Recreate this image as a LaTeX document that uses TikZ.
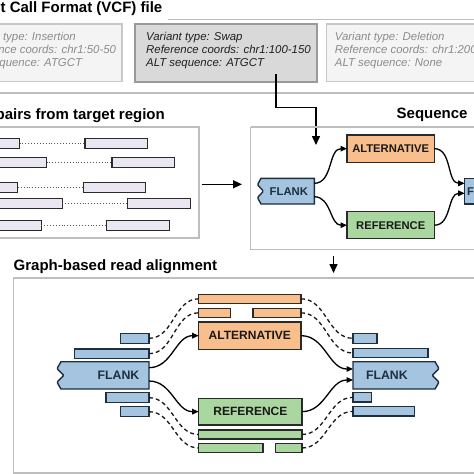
\documentclass[tikz,border=0pt]{standalone}
\usepackage{fontspec}
\setmainfont{Liberation Sans}
\usetikzlibrary{arrows.meta,calc}
\definecolor{framegray}{HTML}{BEBEBE}
\definecolor{vcflight}{HTML}{F4F4F4}
\definecolor{vcflightedge}{HTML}{C8C8C8}
\definecolor{vcfsel}{HTML}{D9D9D9}
\definecolor{vcfseledge}{HTML}{9A9A9A}
\definecolor{vcfgraytext}{HTML}{8C8C8C}
\definecolor{lav}{HTML}{EAE6F2}
\definecolor{edgedark}{HTML}{2A2A2A}
\definecolor{flankblue}{HTML}{A4C4E0}
\definecolor{flankedge}{HTML}{1E2F40}
\definecolor{altorange}{HTML}{F8BE8C}
\definecolor{refgreen}{HTML}{AAD6A0}
\newcommand\rbox[6]{\node[#1, minimum width={((#5)-(#3))*1pt}, minimum height={((#6)-(#4))*1pt}] (#2) at ({((#3)+(#5))/2},{((#4)+(#6))/2}) {};}
\newcommand\lbox[7]{\node[#1, minimum width={((#5)-(#3))*1pt}, minimum height={((#6)-(#4))*1pt}] (#2) at ({((#3)+(#5))/2},{((#4)+(#6))/2}) {#7};}
% flank shape with zigzag on the left: xl, xr, top, bottom, amplitude
\newcommand\flankzl[5]{\pgfmathsetmacro\fh{(#4)-(#3)}%
  \filldraw[flankshape] (#2,#3) -- (#1,#3) [rounded corners=1pt] -- ({#1-#5},{#3+0.25*\fh}) -- ({#1+#5*0.7},{#3+0.5*\fh}) -- ({#1-#5},{#3+0.75*\fh}) [sharp corners] -- (#1,#4) -- (#2,#4) -- cycle;}
\newcommand\flankzr[5]{\pgfmathsetmacro\fh{(#4)-(#3)}%
  \filldraw[flankshape] (#1,#3) -- (#2,#3) [rounded corners=1pt] -- ({#2+#5},{#3+0.25*\fh}) -- ({#2-#5*0.7},{#3+0.5*\fh}) -- ({#2+#5},{#3+0.75*\fh}) [sharp corners] -- (#2,#4) -- (#1,#4) -- cycle;}
\begin{document}
\begin{tikzpicture}[x=1pt,y=-1pt,
  title/.style={font=\fontsize{15}{18}\selectfont\bfseries, inner sep=0pt},
  frameline/.style={draw=framegray, line width=1.6pt},
  vcfdim/.style={draw=vcflightedge, fill=vcflight, line width=1.2pt, inner sep=0pt, outer sep=0pt},
  vcfon/.style={draw=vcfseledge, fill=vcfsel, line width=2pt, inner sep=0pt, outer sep=0pt},
  vcftxt/.style={font=\fontsize{11.4}{13}\selectfont\itshape, align=left, inner sep=0pt, anchor=west},
  pairread/.style={draw=edgedark, fill=lav, line width=1.3pt, inner sep=0pt, outer sep=0pt},
  dotline/.style={draw=black!65, dotted, line width=0.9pt},
  flankshape/.style={draw=flankedge, fill=flankblue, line width=1.4pt},
  flanklabel/.style={font=\fontsize{11.3}{13}\selectfont\bfseries, text=flankedge, inner ysep=0pt, outer sep=0pt, minimum height=25pt},
  flanklabelB/.style={font=\fontsize{12.3}{14}\selectfont\bfseries, text=flankedge, inner ysep=0pt, outer sep=0pt, minimum height=27pt},
  altnode/.style={draw=edgedark, fill=altorange, line width=1.4pt, inner sep=0pt, outer sep=0pt, text=black!90},
  refnode/.style={draw=edgedark, fill=refgreen, line width=1.4pt, inner sep=0pt, outer sep=0pt, text=black!90},
  snode/.style={font=\fontsize{11.2}{13}\selectfont\bfseries},
  bnode/.style={font=\fontsize{12}{14}\selectfont\bfseries},
  bread/.style={draw=flankedge, fill=flankblue, line width=1.3pt, inner sep=0pt, outer sep=0pt},
  oread/.style={draw=edgedark, fill=altorange, line width=1.3pt, inner sep=0pt, outer sep=0pt},
  gread/.style={draw=edgedark, fill=refgreen, line width=1.3pt, inner sep=0pt, outer sep=0pt},
  flow/.style={draw=black, line width=1.3pt, -{Triangle[length=6.5pt,width=5.5pt]}},
  dashflow/.style={draw=black!90, line width=1.3pt, dash pattern=on 4pt off 3pt},
  bigarrow/.style={draw=black, line width=1.5pt, -{Triangle[length=9pt,width=8pt]}}
]
\useasboundingbox (0,0) rectangle (474,474);
\fill[white] (0,0) rectangle (474,474);
\clip (0,0) rectangle (474,474);

% ---------- VCF section ----------
\node[title, anchor=base east] (vcftitle) at (162.5,12.5) {Variant Call Format (VCF) file};
\draw[frameline] (168,19.5) -- (480,19.5);
\draw[frameline] (-5,93) -- (480,93);

\rbox{vcfdim}{vcf1}{-45}{24}{122}{81.3}
\rbox{vcfon}{vcf2}{135}{24}{317}{82}
\rbox{vcfdim}{vcf3}{326.7}{24}{520}{81.3}
\node[vcftxt, text=vcfgraytext] (vcf1t) at (-36,50.7) {Variant type: Insertion\\Reference coords: chr1:50-50\\ALT sequence: ATGCT};
\node[vcftxt, text=black!88] (vcf2t) at (146,50.7) {Variant type: Swap\\Reference coords: chr1:100-150\\ALT sequence: ATGCT};
\node[vcftxt, text=vcfgraytext] (vcf3t) at (334.7,50.7) {Variant type: Deletion\\Reference coords: chr1:200-250\\ALT sequence: None};

\coordinate (vcfa) at (276,74);
\coordinate (bend) at (276,107.7);
\coordinate (seqin) at (316,145);
\draw[bigarrow] (vcfa) -- (bend) -| (seqin);

% ---------- Read pairs ----------
\node[title, anchor=base east] (readtitle) at (165,119.3) {Read pairs from target region};
\draw[frameline] (-5,126.7) rectangle (199,237.7);

\rbox{pairread}{p1l}{-43}{138.3}{19.5}{148.3}
\rbox{pairread}{p1r}{85}{138.3}{147.5}{148.3}
\rbox{pairread}{p2l}{-16}{157.3}{46.5}{167.3}
\rbox{pairread}{p2r}{112}{157.3}{174.5}{167.3}
\rbox{pairread}{p3l}{-44.7}{182.2}{17.8}{192.2}
\rbox{pairread}{p3r}{83.3}{182.2}{145.8}{192.2}
\rbox{pairread}{p4l}{-0.3}{198.7}{62.2}{208.7}
\rbox{pairread}{p4r}{127.7}{198.7}{190.2}{208.7}
\rbox{pairread}{p5l}{-21.3}{220.2}{41.2}{230.2}
\rbox{pairread}{p5r}{106.7}{220.2}{169.2}{230.2}
\foreach \i in {1,...,5} {\draw[dotline] (p\i l.east) -- (p\i r.west);}

\coordinate (ra1) at (201.7,184.3);
\coordinate (ra2) at (242,184.3);
\draw[bigarrow] (ra1) -- (ra2);

% ---------- Sequence graph ----------
\node[title, anchor=base west] (seqtitle) at (396.5,118.5) {Sequence};
\draw[frameline] (250.5,126.7) -- (480,126.7) (250.5,126.7) -- (250.5,249.5) -- (480,249.5);

\flankzl{261}{314.3}{178.3}{204}{3.5}
\filldraw[flankshape] (530,178.3) -- (464.7,178.3) -- (464.7,204) -- (530,204);
\node[flanklabel, anchor=east, inner xsep=6.3pt] (flankS) at (314.3,191.2) {FLANK};
\node[flanklabel, anchor=west, inner xsep=2.5pt] (flankS2) at (464.7,191.2) {FLANK};
\lbox{altnode,snode}{altS}{347}{135}{434.3}{162.3}{ALTERNATIVE}
\lbox{refnode,snode}{refS}{347}{211.7}{434.5}{238.7}{REFERENCE}

\draw[flow] ($(flankS.east)+(0,-7.9)$) to[out=0,in=180] (altS.west);
\draw[flow] ($(flankS.east)+(0,5.5)$) to[out=0,in=180] (refS.west);
\draw[flow] (altS.east) to[out=0,in=180] ($(flankS2.west)+(0,-7.9)$);
\draw[flow] (refS.east) to[out=0,in=180] ($(flankS2.west)+(0,2.1)$);

\coordinate (da1) at (333.5,255.5);
\coordinate (da2) at (333.5,273);
\draw[bigarrow] (da1) -- (da2);

% ---------- Graph-based read alignment ----------
\node[title, anchor=base west] (gtitle) at (13.5,270) {Graph-based read alignment};
\draw[frameline] (480,278) -- (13.5,278) -- (13.5,472.7) -- (480,472.7);

\flankzl{61}{149}{361.7}{389}{4}
\flankzr{353}{435}{361.7}{389}{4}
\node[flanklabelB, anchor=east, inner xsep=9.7pt] (flankL) at (149,375.3) {FLANK};
\node[flanklabelB, anchor=west, inner xsep=13pt] (flankR) at (353,375.3) {FLANK};
\lbox{altnode,bnode}{altB}{198.7}{322}{301}{349.3}{ALTERNATIVE}
\lbox{refnode,bnode}{refB}{198.7}{398.3}{302}{425}{REFERENCE}

% reads
\rbox{bread}{la}{120.7}{333.3}{149}{343.3}
\rbox{bread}{lb}{74.7}{349}{149}{358.3}
\rbox{bread}{lc}{106}{392.7}{149}{402.7}
\rbox{bread}{ld}{120.7}{406.7}{149}{416.7}
\rbox{oread}{o1}{198.7}{294.3}{301}{303.3}
\rbox{oread}{o2a}{198.7}{308.3}{230.7}{317.3}
\rbox{oread}{o2b}{253}{308.3}{301}{317.3}
\rbox{gread}{g1}{198.7}{430}{302}{439}
\rbox{gread}{g2a}{198.7}{443.3}{263}{452.7}
\rbox{gread}{g2b}{275.3}{443.3}{302}{452.7}
\rbox{bread}{ra}{353}{333.3}{377}{343.3}
\rbox{bread}{rb}{353}{348.3}{428}{357.7}
\rbox{bread}{rc}{353}{392.7}{371.3}{402}
\rbox{bread}{rd}{353}{406.7}{414.3}{416}

\draw[dashflow] (la.east) to[out=0,in=180] (o1.west);
\draw[dashflow] (lb.east) to[out=0,in=180] (o2a.west);
\draw[dashflow] (lc.east) to[out=0,in=180] (g1.west);
\draw[dashflow] (ld.east) to[out=0,in=180] (g2a.west);
\draw[dashflow] (o1.east) to[out=0,in=180] (ra.west);
\draw[dashflow] (o2b.east) to[out=0,in=180] (rb.west);
\draw[dashflow] (g1.east) to[out=0,in=180] (rc.west);
\draw[dashflow] (g2b.east) to[out=0,in=180] (rd.west);

\draw[flow] ($(flankL.east)+(0,-7.6)$) to[out=0,in=180] (altB.west);
\draw[flow] ($(flankL.east)+(0,5.7)$) to[out=0,in=180] (refB.west);
\draw[flow] (altB.east) to[out=0,in=180] ($(flankR.west)+(0,-6.3)$);
\draw[flow] (refB.east) to[out=0,in=180] ($(flankR.west)+(0,4.7)$);
\end{tikzpicture}
\end{document}
